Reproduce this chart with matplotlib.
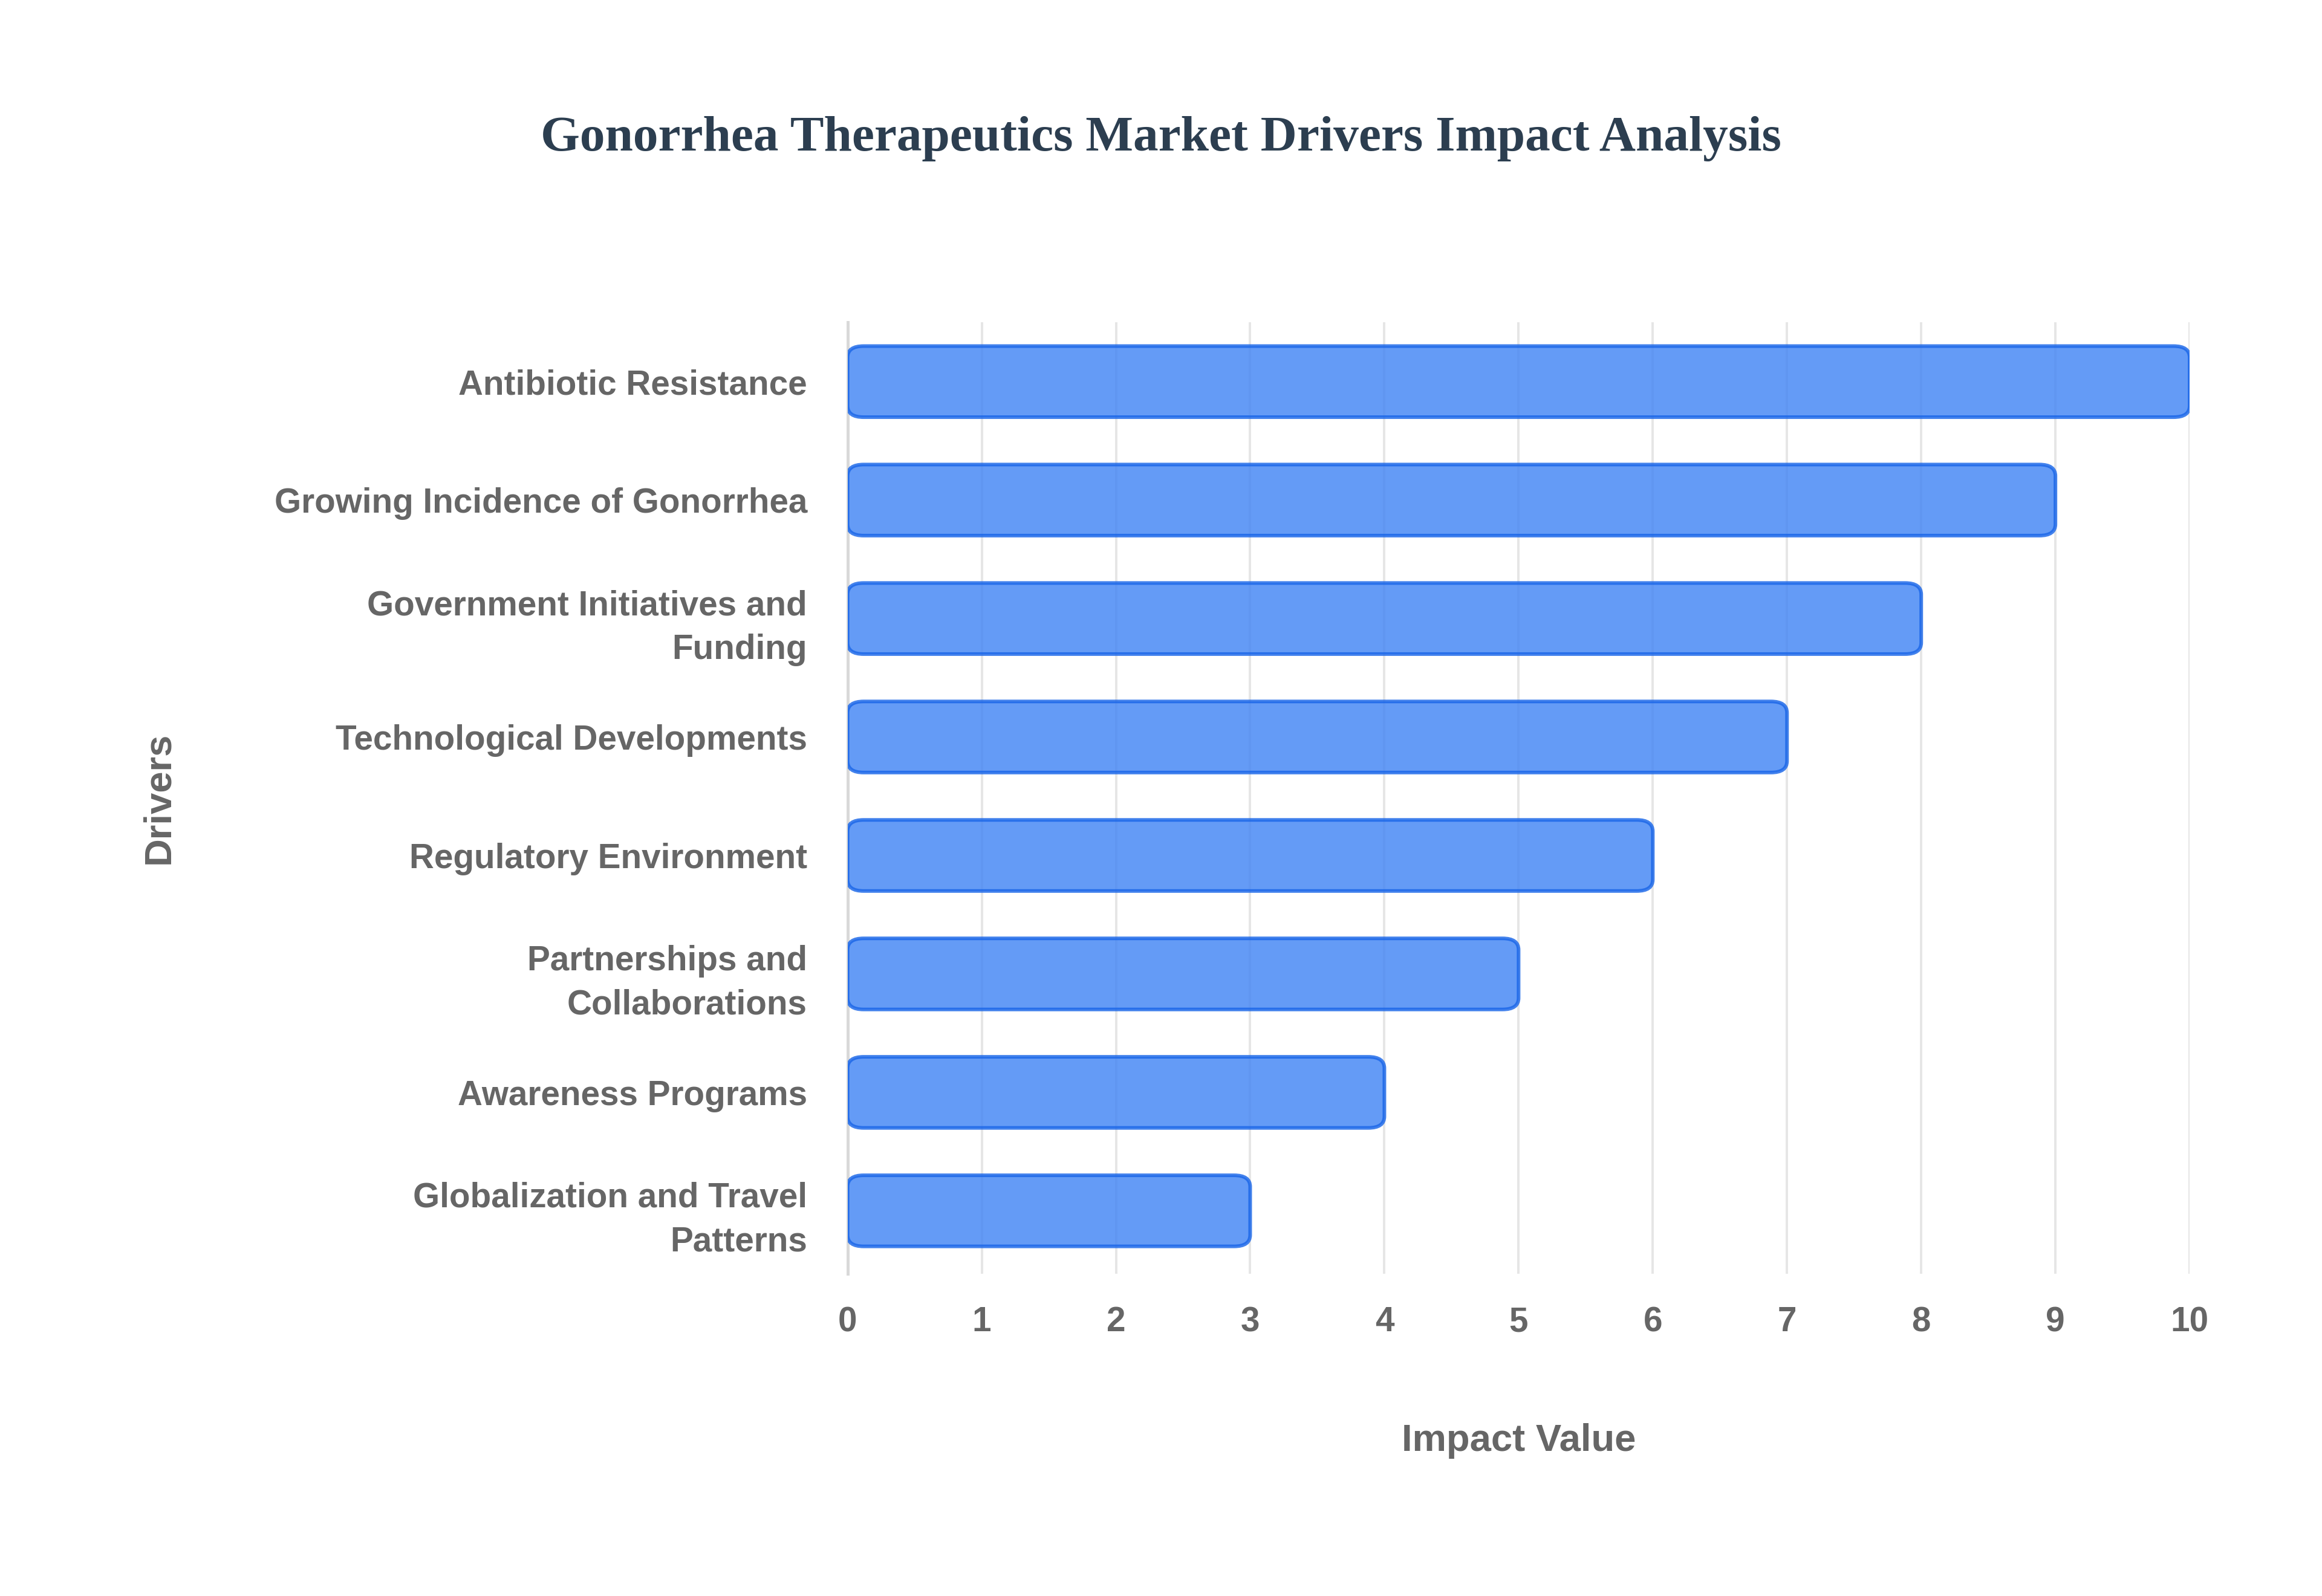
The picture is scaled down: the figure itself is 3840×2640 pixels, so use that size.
import matplotlib
matplotlib.use("Agg")
import matplotlib.pyplot as plt
from matplotlib.patches import FancyBboxPatch

drivers = [
    "Antibiotic Resistance",
    "Growing Incidence of Gonorrhea",
    "Government Initiatives and\nFunding",
    "Technological Developments",
    "Regulatory Environment",
    "Partnerships and\nCollaborations",
    "Awareness Programs",
    "Globalization and Travel\nPatterns",
]
impact = [10, 9, 8, 7, 6, 5, 4, 3]
x_ticks = list(range(0, 11))

LABEL_GRAY = "#666666"
BAR_FILL = "#4285f4"
BAR_EDGE = "#1a66e8"

fig = plt.figure(figsize=(16, 11), dpi=240)
ax = fig.add_axes([0.365, 0.202, 0.578, 0.596])

ypos = list(range(len(drivers)))
bars = ax.barh(ypos, impact, height=0.6, color="none")
for bar in bars:
    x0, y0 = bar.get_x(), bar.get_y()
    w, h = bar.get_width(), bar.get_height()
    ax.add_patch(FancyBboxPatch(
        (x0, y0), w, h,
        boxstyle="round,pad=0,rounding_size=0.12",
        mutation_aspect=0.8,
        facecolor=BAR_FILL, alpha=0.82, edgecolor=BAR_EDGE, linewidth=1.8,
        zorder=3,
    ))

ax.set_xlim(0, 10)
ax.set_ylim(len(drivers) - 0.47, -0.5)
ax.set_yticks(ypos)
ax.set_yticklabels(drivers, fontsize=17, fontweight="bold", color=LABEL_GRAY,
                   family="Liberation Sans", linespacing=1.45)
ax.set_xticks(x_ticks)
ax.set_xticklabels([str(t) for t in x_ticks], fontsize=17, fontweight="bold",
                   color=LABEL_GRAY, family="Liberation Sans")
ax.tick_params(axis="y", length=0, pad=20)
ax.tick_params(axis="x", length=0, pad=16)

ax.grid(axis="x", color="#e6e6e6", linewidth=1.2, zorder=0)
ax.set_axisbelow(True)
for side in ("top", "right", "bottom"):
    ax.spines[side].set_visible(False)
ax.spines["left"].set_color("#d9d9d9")
ax.spines["left"].set_linewidth(1.5)

ax.set_xlabel("Impact Value", fontsize=19, fontweight="bold", color=LABEL_GRAY,
              family="Liberation Sans", labelpad=42)
ax.set_ylabel("Drivers", fontsize=19, fontweight="bold", color=LABEL_GRAY,
              family="Liberation Sans")
ax.yaxis.set_label_coords(-0.50, 0.5)

fig.text(0.5, 0.913, "Gonorrhea Therapeutics Market Drivers Impact Analysis",
         ha="center", va="center", fontsize=25, fontweight="bold",
         color="#2c3e50", family="Liberation Serif")

fig.savefig("out.png", dpi=240, facecolor="white")
